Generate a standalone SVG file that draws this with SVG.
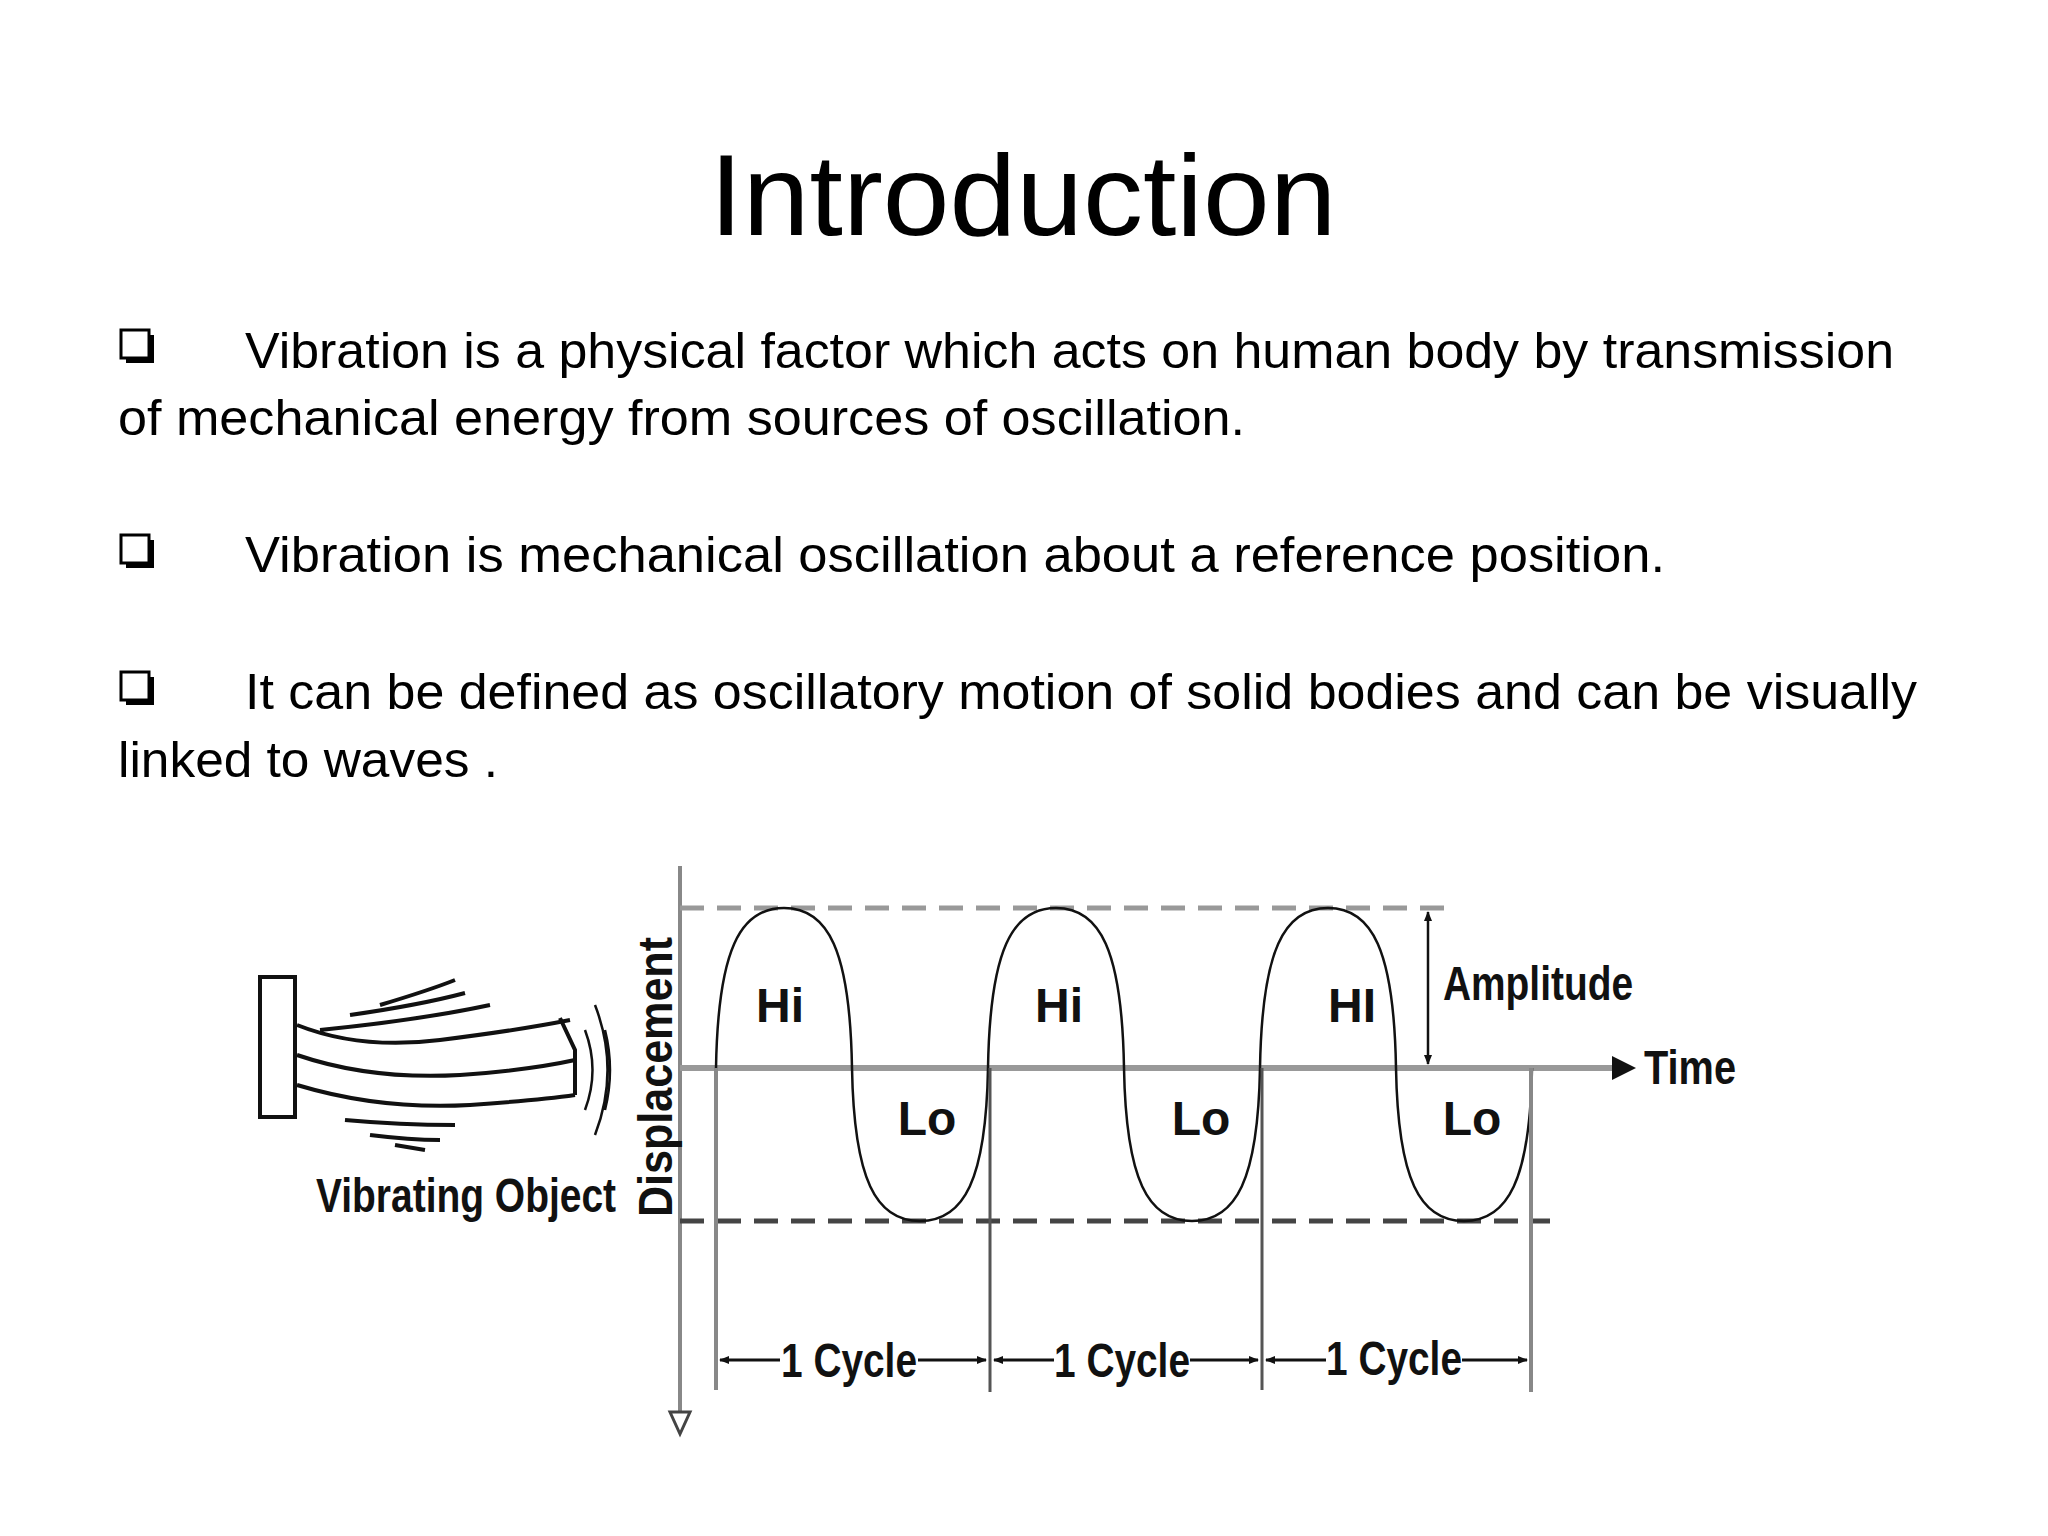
<svg xmlns="http://www.w3.org/2000/svg" width="2048" height="1536" viewBox="0 0 2048 1536">
<defs>
<style>
.body{font-family:"Liberation Sans",Arial,sans-serif;font-size:50px;fill:#000}
.lab{font-family:"Liberation Sans",Arial,sans-serif;font-weight:bold;font-size:48px;fill:#111}
.k{stroke:#111;fill:none}
</style>
<marker id="ah" markerWidth="10" markerHeight="10" refX="9" refY="5" orient="auto-start-reverse" markerUnits="userSpaceOnUse"><path d="M0,1 L10,5 L0,9 Z" fill="#111"/></marker>
<g id="box"><rect x="0" y="0" width="28" height="28" fill="#fff" stroke="#000" stroke-width="3"/><path d="M5,30.5 H30.5 V5" fill="none" stroke="#000" stroke-width="5"/></g>
</defs>
<rect width="2048" height="1536" fill="#fff"/>
<g id="title"><text x="1023" y="235" text-anchor="middle" font-family="Liberation Sans,Arial,sans-serif" font-size="115" textLength="627" lengthAdjust="spacingAndGlyphs">Introduction</text></g>
<g id="bullets">
<use href="#box" x="121" y="330"/>
<use href="#box" x="121" y="535"/>
<use href="#box" x="121" y="672"/>
<text class="body" x="245" y="368" textLength="1649" lengthAdjust="spacingAndGlyphs">Vibration is a physical factor which acts on human body by transmission</text>
<text class="body" x="118" y="435" textLength="1127" lengthAdjust="spacingAndGlyphs">of mechanical energy from sources of oscillation.</text>
<text class="body" x="245" y="572" textLength="1420" lengthAdjust="spacingAndGlyphs">Vibration is mechanical oscillation about a reference position.</text>
<text class="body" x="245" y="709" textLength="1672" lengthAdjust="spacingAndGlyphs">It can be defined as oscillatory motion of solid bodies and can be visually</text>
<text class="body" x="118" y="777" textLength="380" lengthAdjust="spacingAndGlyphs">linked to waves .</text>
</g>
<g id="object">
<rect x="260" y="977" width="35" height="140" fill="#fff" stroke="#111" stroke-width="4"/>
<path class="k" stroke-width="4" d="M297,1025 Q360,1050 440,1040 Q520,1030 570,1020 M297,1055 Q370,1080 460,1075 Q530,1070 575,1060 M297,1085 Q380,1110 470,1105 Q540,1100 575,1095 M380,1005 Q430,990 455,980 M350,1015 Q420,1005 465,993 M320,1030 Q420,1020 490,1005 M345,1120 Q400,1125 455,1125 M370,1135 Q410,1140 440,1140 M395,1145 L425,1150"/>
<path class="k" stroke-width="4" d="M560,1018 L575,1050 L575,1095"/>
<path class="k" stroke-width="2.5" d="M585,1030 Q600,1070 585,1110 M595,1005 Q620,1070 595,1135 M605,1030 Q615,1070 605,1110"/>
<text class="lab" x="316" y="1212" textLength="300" lengthAdjust="spacingAndGlyphs">Vibrating Object</text>
</g>
<g id="axes">
<line x1="680" y1="866" x2="680" y2="1412" stroke="#888" stroke-width="4"/>
<path d="M670,1412 L690,1412 L680,1434 Z" fill="#fff" stroke="#444" stroke-width="3"/>
<line x1="680" y1="1068" x2="1618" y2="1068" stroke="#999" stroke-width="6"/>
<path d="M1612,1056 L1636,1068 L1612,1080 Z" fill="#111"/>
<line x1="680" y1="908" x2="1446" y2="908" stroke="#999" stroke-width="5" stroke-dasharray="24,13"/>
<line x1="680" y1="1221" x2="1550" y2="1221" stroke="#444" stroke-width="5" stroke-dasharray="24,13"/>
<text class="lab" x="1644" y="1084" textLength="92" lengthAdjust="spacingAndGlyphs">Time</text>
<text class="lab" transform="translate(672,1077) rotate(-90)" text-anchor="middle" textLength="280" lengthAdjust="spacingAndGlyphs">Displacement</text>
</g>
<g id="wave">
<path class="k" stroke-width="2.5" d="M716,1068 C718,950 740,908 784,908 C828,908 850,950 852,1068 C854,1180 876,1221 920,1221 C964,1221 986,1180 988,1068 C990,950 1012,908 1056,908 C1100,908 1122,950 1124,1068 C1126,1180 1148,1221 1192,1221 C1236,1221 1258,1180 1260,1068 C1262,950 1284,908 1328,908 C1372,908 1394,950 1396,1068 C1398,1180 1420,1221 1464,1221 C1508,1221 1530,1180 1532,1068"/>
<text class="lab" x="780" y="1022" text-anchor="middle">Hi</text>
<text class="lab" x="1059" y="1022" text-anchor="middle">Hi</text>
<text class="lab" x="1352" y="1022" text-anchor="middle">HI</text>
<text class="lab" x="927" y="1135" text-anchor="middle">Lo</text>
<text class="lab" x="1201" y="1135" text-anchor="middle">Lo</text>
<text class="lab" x="1472" y="1135" text-anchor="middle">Lo</text>
</g>
<g id="cycles">
<line x1="716" y1="1068" x2="716" y2="1390" stroke="#888" stroke-width="4"/>
<line x1="990" y1="1068" x2="990" y2="1392" stroke="#555" stroke-width="3"/>
<line x1="1262" y1="1068" x2="1262" y2="1390" stroke="#555" stroke-width="3"/>
<line x1="1531" y1="1068" x2="1531" y2="1392" stroke="#888" stroke-width="4"/>
<line x1="720" y1="1360" x2="780" y2="1360" stroke="#111" stroke-width="3" marker-start="url(#ah)"/>
<line x1="918" y1="1360" x2="986" y2="1360" stroke="#111" stroke-width="3" marker-end="url(#ah)"/>
<line x1="994" y1="1360" x2="1054" y2="1360" stroke="#111" stroke-width="3" marker-start="url(#ah)"/>
<line x1="1190" y1="1360" x2="1258" y2="1360" stroke="#111" stroke-width="3" marker-end="url(#ah)"/>
<line x1="1266" y1="1360" x2="1326" y2="1360" stroke="#111" stroke-width="3" marker-start="url(#ah)"/>
<line x1="1462" y1="1360" x2="1527" y2="1360" stroke="#111" stroke-width="3" marker-end="url(#ah)"/>
<text class="lab" x="849" y="1377" text-anchor="middle" textLength="136" lengthAdjust="spacingAndGlyphs">1 Cycle</text>
<text class="lab" x="1122" y="1377" text-anchor="middle" textLength="136" lengthAdjust="spacingAndGlyphs">1 Cycle</text>
<text class="lab" x="1394" y="1375" text-anchor="middle" textLength="136" lengthAdjust="spacingAndGlyphs">1 Cycle</text>
</g>
<g id="amplitude">
<line x1="1428" y1="912" x2="1428" y2="1064" stroke="#111" stroke-width="2.5" marker-start="url(#ah)" marker-end="url(#ah)"/>
<text class="lab" x="1443" y="1000" textLength="190" lengthAdjust="spacingAndGlyphs">Amplitude</text>
</g>
</svg>
